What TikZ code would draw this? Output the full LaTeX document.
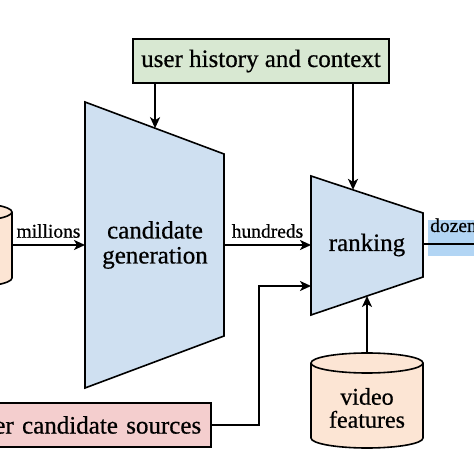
\documentclass[tikz,border=0pt]{standalone}
\usepackage{fontspec}
\setmainfont{Liberation Serif}[FakeBold=0.6]
\usetikzlibrary{arrows.meta,calc}
\definecolor{procblue}{RGB}{207,224,241}
\definecolor{ctxgreen}{RGB}{216,232,210}
\definecolor{srcpink}{RGB}{244,206,206}
\definecolor{dbpeach}{RGB}{252,229,212}
\definecolor{hlblue}{RGB}{178,213,244}
\tikzset{
  conn/.style={line width=2.2pt, -{Stealth[length=11pt,width=10pt,inset=3pt]}},
  plainconn/.style={line width=2.2pt},
  proc/.style={draw, line width=1.6pt, fill=procblue, line join=miter},
  boxlabel/.style={draw, line width=1.6pt, minimum height=44pt, inner sep=0pt, font=\fontsize{25}{28}\selectfont},
  proclabel/.style={align=center, inner sep=0pt, font=\fontsize{25}{25}\selectfont},
  dblabel/.style={align=center, inner sep=0pt, font=\fontsize{24}{23}\selectfont},
  edgelabel/.style={inner sep=0pt, font=\fontsize{19.5}{22}\selectfont}
}
\begin{document}
\begin{tikzpicture}[x=1pt,y=1pt]
\useasboundingbox (0,0) rectangle (474,474);
\clip (0,0) rectangle (474,474);
\fill[white] (0,0) rectangle (474,474);

% candidate generation trapezoid
\coordinate (cgTL) at (85,372);
\coordinate (cgTR) at (224,320);
\coordinate (cgBR) at (224,138);
\coordinate (cgBL) at (85,86);
\draw[proc] (cgTL) -- (cgTR) -- (cgBR) -- (cgBL) -- cycle;
\node[proclabel] (cg) at (155,229) {candidate\\generation};

% ranking trapezoid
\coordinate (rkTL) at (311,298);
\coordinate (rkTR) at (423,261);
\coordinate (rkBR) at (423,197);
\coordinate (rkBL) at (311,159);
\draw[proc] (rkTL) -- (rkTR) -- (rkBR) -- (rkBL) -- cycle;
\node[proclabel] (rk) at (367,229) {ranking};

% user history box
\node[boxlabel, fill=ctxgreen, minimum width=256pt] (ub) at (261,413) {user history and context};

% other candidate sources box
\node[boxlabel, fill=srcpink, text width=280pt, align=right, inner xsep=10pt, anchor=east] (os) at (212,49) {other candidate sources};

% left database cylinder
\coordinate (ldb) at (12,229);
\fill[dbpeach] (-100,262) -- (-100,196) arc[start angle=180,end angle=360,x radius=56,y radius=10] -- (12,262) arc[start angle=0,end angle=180,x radius=56,y radius=10] -- cycle;
\draw[line width=1.6pt] (-100,262) -- (-100,196) arc[start angle=180,end angle=360,x radius=56,y radius=10] -- (12,262) arc[start angle=0,end angle=360,x radius=56,y radius=10];

% video features cylinder
\fill[dbpeach] (311,111) -- (311,36) arc[start angle=180,end angle=360,x radius=56,y radius=10] -- (423,111) arc[start angle=0,end angle=180,x radius=56,y radius=10] -- cycle;
\draw[line width=1.6pt] (311,111) -- (311,36) arc[start angle=180,end angle=360,x radius=56,y radius=10] -- (423,111) arc[start angle=0,end angle=360,x radius=56,y radius=10];
\coordinate (vftop) at (367,121);
\node[dblabel] (vf) at (367,66) {video\\features};

% output highlight
\fill[hlblue] (428,218) rectangle (480,254);
\coordinate (out) at (480,230);
\node[edgelabel, anchor=base west] (dz) at (430,242) {dozens};

% connectors
\coordinate (cgtop) at ($(cgTL)!0.504!(cgTR)$);
\coordinate (rktop) at ($(rkTL)!0.375!(rkTR)$);
\coordinate (rkbot) at ($(rkBL)!0.5!(rkBR)$);
\coordinate (cgin) at ($(cgTL)!0.6!(cgBL)$);
\coordinate (cgout) at ($(cgTR)!0.5!(cgBR)$);
\coordinate (rkin) at (311,229);
\coordinate (rkin2) at (311,188);
\coordinate (rkout) at (423,230);

\draw[conn] (ub.south -| cgtop) -- (cgtop);
\draw[conn] (ub.south -| rktop) -- (rktop);
\draw[conn] (ldb) -- (cgin |- ldb) node[edgelabel, midway, above=6pt] (ml) {millions};
\draw[conn] (cgout |- rkin) -- (rkin) node[edgelabel, midway, above=6pt] (hd) {hundreds};
\draw[conn] (os.east) -| (259,188) -- (rkin2);
\draw[conn] (vftop) -- (rkbot);
\draw[plainconn] (rkout) -- (out);
\end{tikzpicture}
\end{document}
